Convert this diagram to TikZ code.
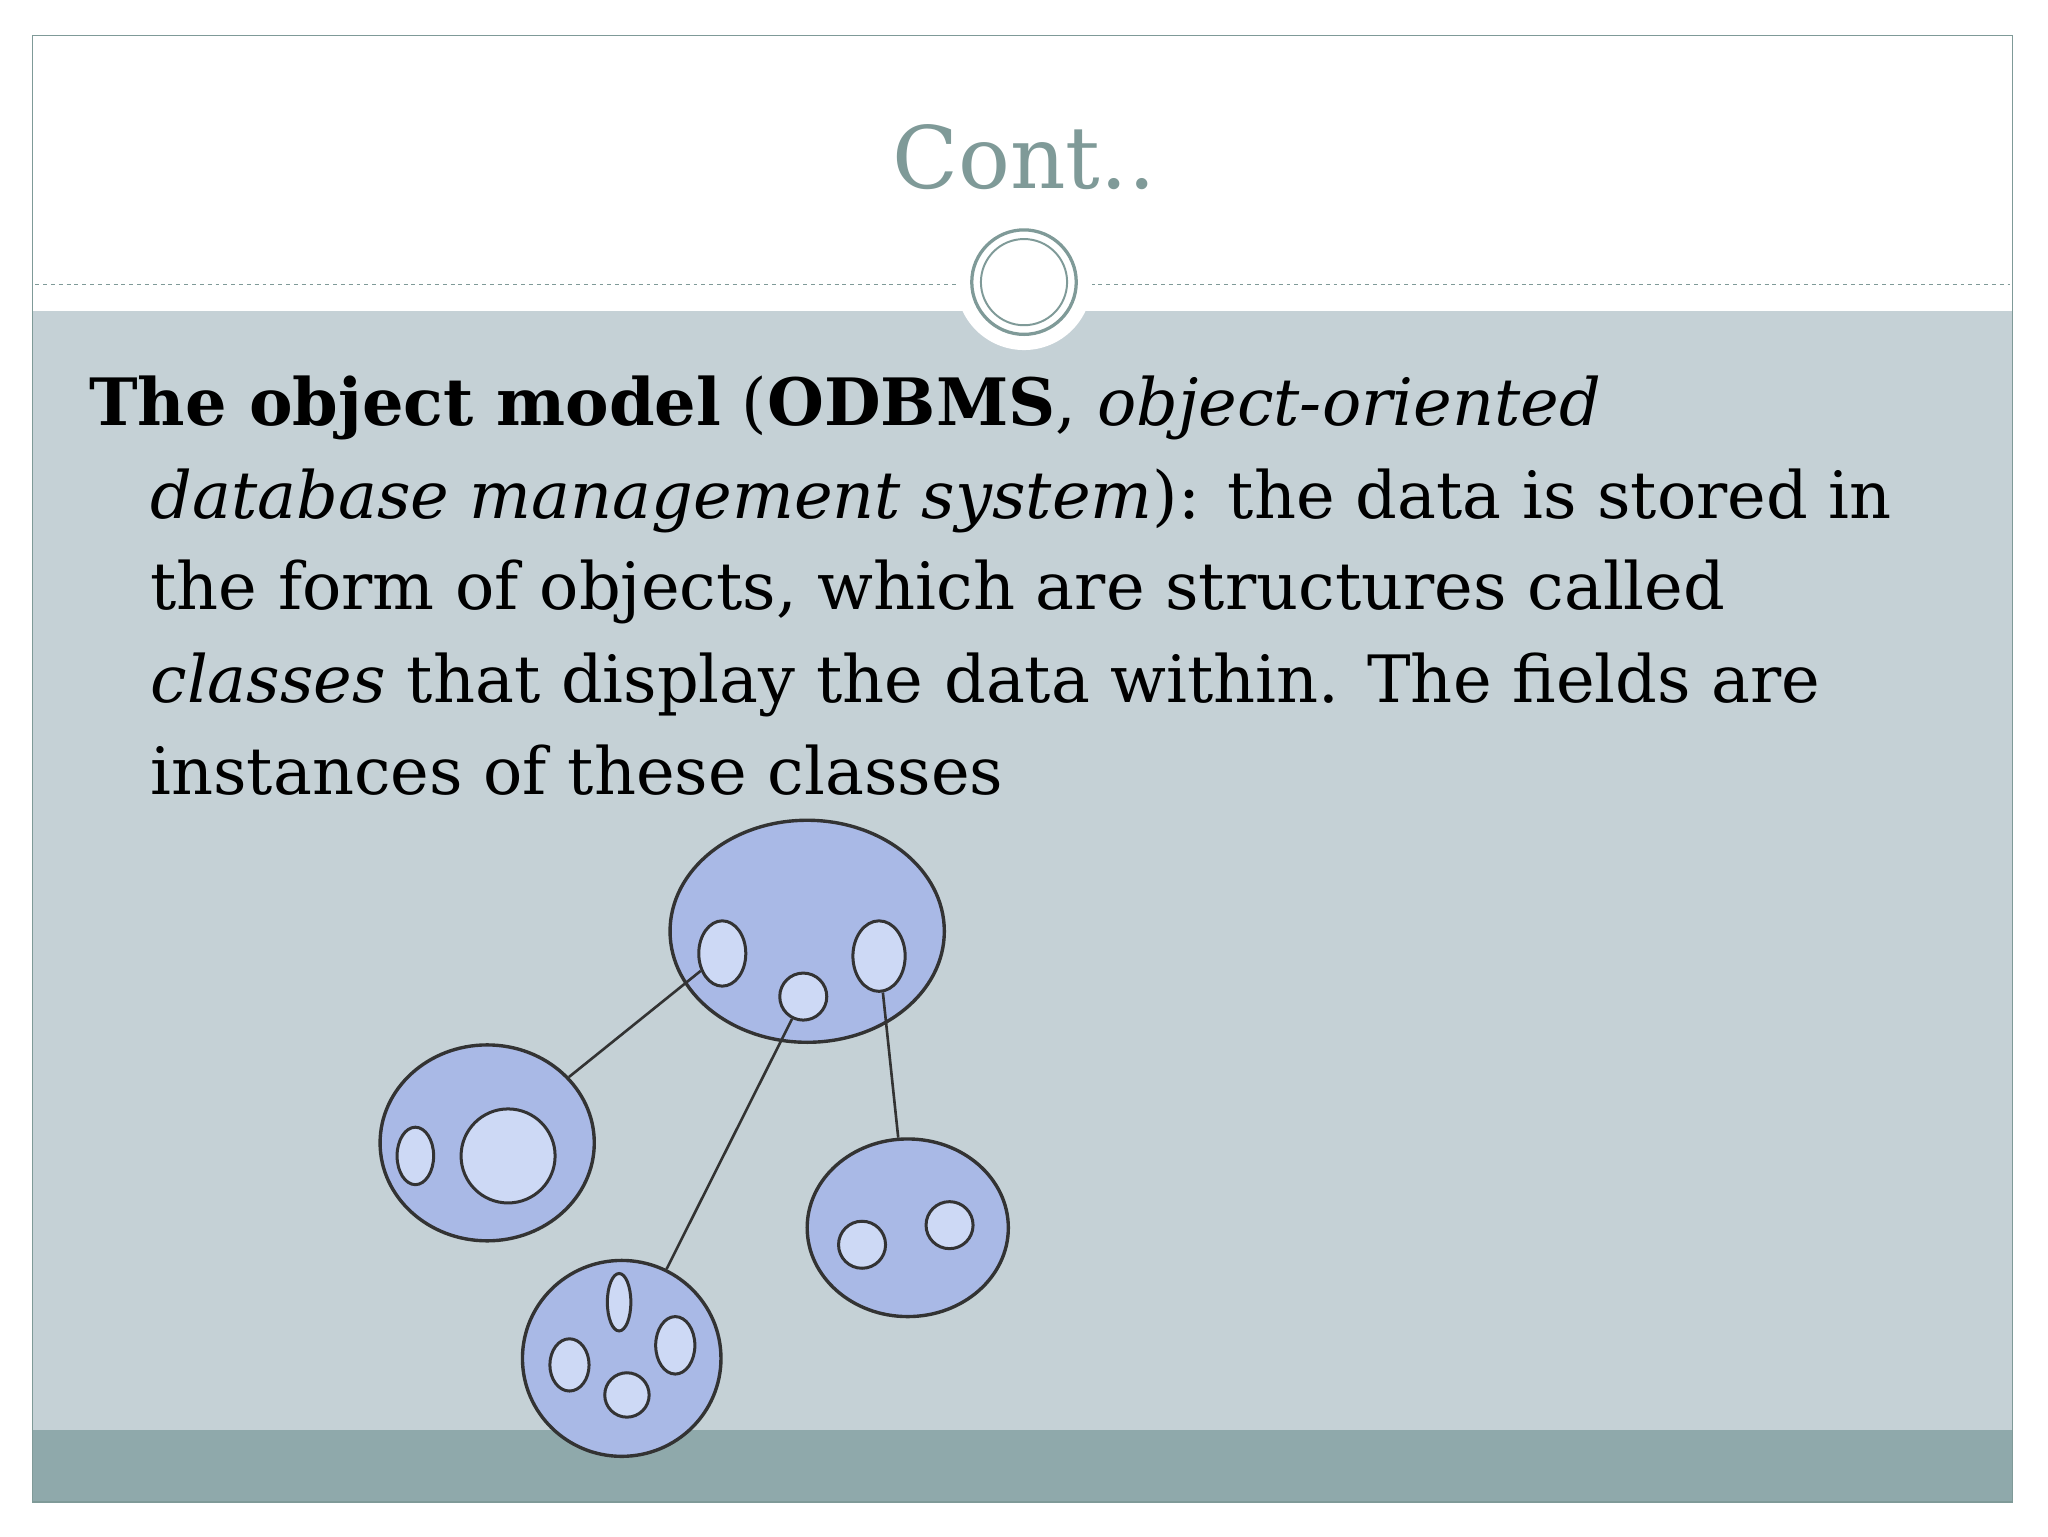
\documentclass[tikz,border=0pt]{standalone}
\usepackage{fontspec}
\setmainfont{DejaVu Serif}
\usetikzlibrary{shapes.geometric}
\definecolor{bg}{HTML}{C5D1D6}
\definecolor{band}{HTML}{8FA9AB}
\definecolor{acc}{HTML}{7F9A98}
\definecolor{blob}{HTML}{A9B9E6}
\definecolor{inner}{HTML}{CDD9F5}
\definecolor{ink}{HTML}{333333}
\tikzset{
 big/.style={ellipse,draw=ink,line width=2.6pt,fill=blob,inner sep=0pt},
 sm/.style={ellipse,draw=ink,line width=2.3pt,fill=inner,inner sep=0pt},
 link/.style={draw=ink,line width=2pt},
 txt/.style={anchor=base west,inner sep=0pt,font=\fontsize{50}{54}\selectfont}
}
\begin{document}
\begin{tikzpicture}[x=1pt,y=-1pt]
\useasboundingbox (0,0) rectangle (1568,1176);
\fill[white] (0,0) rectangle (1568,1176);
\fill[bg] (25,238) rectangle (1541,1095);
\fill[band] (25,1095) rectangle (1541,1150);
\draw[acc,line width=1pt] (25,27) rectangle (1541,1150);
\draw[acc,dashed,line width=0.8pt] (27,218) -- (735,218);
\draw[acc,dashed,line width=0.8pt] (835,218) -- (1539,218);
\fill[white] (784,216) circle (52);
\draw[acc,line width=2.5pt] (784,216) circle (40);
\draw[acc,line width=1.5pt] (784,216) circle (33);
\node[acc,font=\fontsize{66}{70}\selectfont\rmfamily] (title) at (784,120) {Cont..};
\node[txt] (l1) at (68,326) {\textbf{The object model} (\textbf{ODBMS}, \textit{object-oriented}};
\node[txt] (l2) at (115,397) {\textit{database management system}): the data is stored in};
\node[txt] (l3) at (115,467) {the form of objects, which are structures called};
\node[txt] (l4) at (115,538) {\textit{classes} that display the data within. The fields are};
\node[txt] (l5) at (115,608) {instances of these classes};
% blobs
\node[big,minimum width=210,minimum height=170] (T) at (618,713) {};
\node[sm,minimum width=36,minimum height=50] (t1) at (553,730) {};
\node[sm,minimum width=40,minimum height=54] (t2) at (673,732) {};
\node[sm,minimum width=36,minimum height=36] (t3) at (615,763) {};
\node[big,minimum width=164,minimum height=150] (L) at (373,875) {};
\node[sm,minimum width=28,minimum height=44] (l1a) at (318,885) {};
\node[sm,minimum width=72,minimum height=72] (l2a) at (389,885) {};
\node[big,minimum width=152,minimum height=150] (B) at (476,1040) {};
\node[sm,minimum width=18,minimum height=44] (b1) at (474,997) {};
\node[sm,minimum width=30,minimum height=40] (b2) at (436,1045) {};
\node[sm,minimum width=30,minimum height=44] (b3) at (517,1030) {};
\node[sm,minimum width=34,minimum height=34] (b4) at (480,1068) {};
\node[big,minimum width=154,minimum height=136] (R) at (695,940) {};
\node[sm,minimum width=36,minimum height=36] (r1) at (660,953) {};
\node[sm,minimum width=36,minimum height=36] (r2) at (727,938) {};
\draw[link] (t1) -- (L);
\draw[link] (t3) -- (B);
\draw[link] (t2) -- (R);
\end{tikzpicture}
\end{document}
